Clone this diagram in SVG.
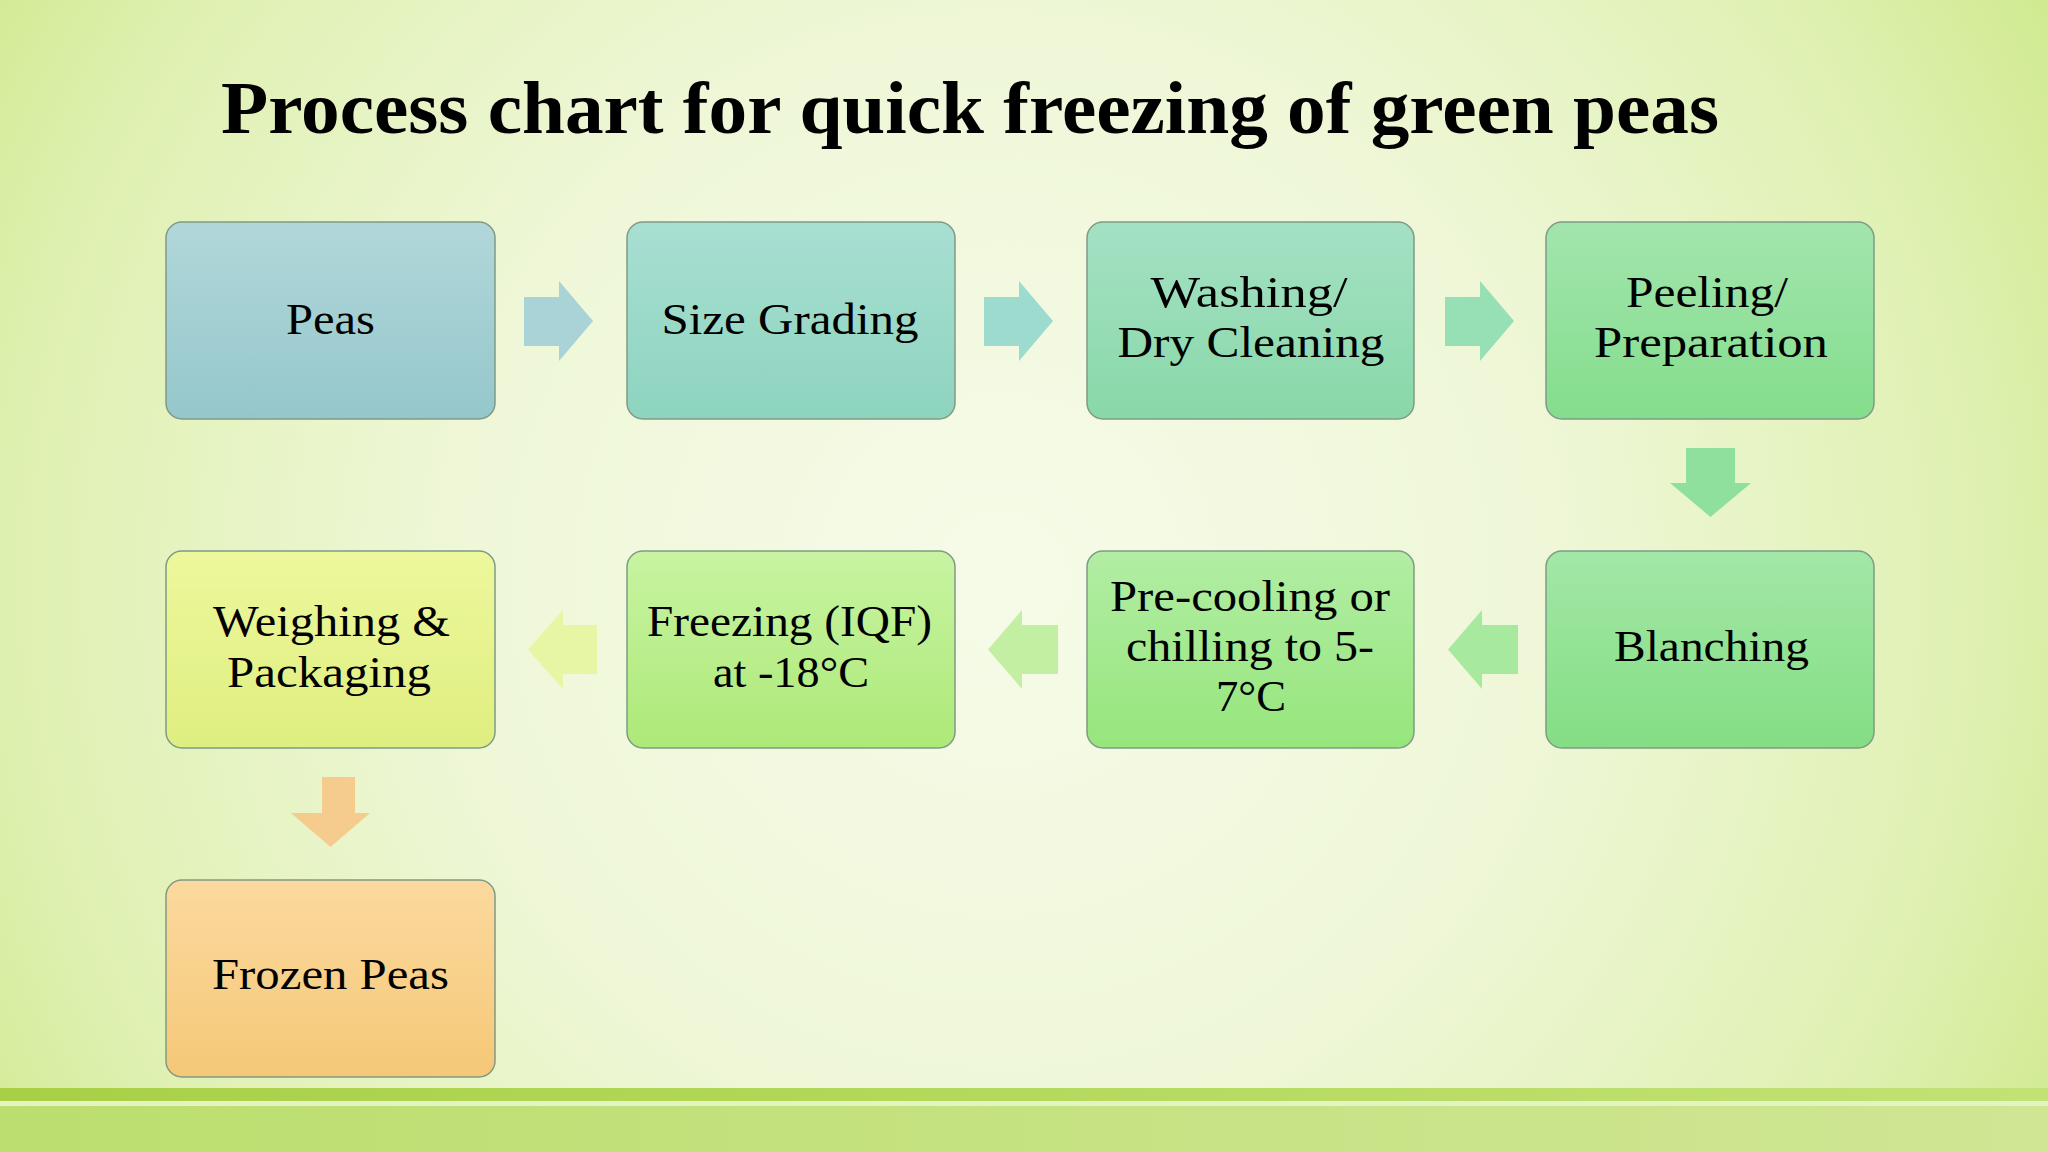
<svg xmlns="http://www.w3.org/2000/svg" width="2048" height="1152" viewBox="0 0 2048 1152">
<defs>
<radialGradient id="bg" gradientUnits="userSpaceOnUse" cx="1000" cy="580" r="1200">
<stop offset="0" stop-color="#f6fbe8"/>
<stop offset="0.45" stop-color="#eff7d8"/>
<stop offset="0.8" stop-color="#e0f1b4"/>
<stop offset="1" stop-color="#d0ea90"/>
</radialGradient>
<linearGradient id="band" x1="0" y1="0" x2="1" y2="0">
<stop offset="0" stop-color="#a8d046"/>
<stop offset="1" stop-color="#c2e274"/>
</linearGradient>
<linearGradient id="band2" x1="0" y1="0" x2="1" y2="0">
<stop offset="0" stop-color="#bcde6e"/>
<stop offset="1" stop-color="#cfe694"/>
</linearGradient>
<linearGradient id="g1" x1="0" y1="0" x2="0" y2="1"><stop offset="0" stop-color="#b2d7da"/><stop offset="1" stop-color="#94c7cb"/></linearGradient>
<linearGradient id="g2" x1="0" y1="0" x2="0" y2="1"><stop offset="0" stop-color="#a8dfd2"/><stop offset="1" stop-color="#8dd4bf"/></linearGradient>
<linearGradient id="g3" x1="0" y1="0" x2="0" y2="1"><stop offset="0" stop-color="#a4e1c4"/><stop offset="1" stop-color="#89d8a9"/></linearGradient>
<linearGradient id="g4" x1="0" y1="0" x2="0" y2="1"><stop offset="0" stop-color="#a2e5ae"/><stop offset="1" stop-color="#84dd8c"/></linearGradient>
<linearGradient id="g5" x1="0" y1="0" x2="0" y2="1"><stop offset="0" stop-color="#a2e7a6"/><stop offset="1" stop-color="#84de84"/></linearGradient>
<linearGradient id="g6" x1="0" y1="0" x2="0" y2="1"><stop offset="0" stop-color="#b2eda4"/><stop offset="1" stop-color="#96e67c"/></linearGradient>
<linearGradient id="g7" x1="0" y1="0" x2="0" y2="1"><stop offset="0" stop-color="#c8f4a2"/><stop offset="1" stop-color="#ade978"/></linearGradient>
<linearGradient id="g8" x1="0" y1="0" x2="0" y2="1"><stop offset="0" stop-color="#edf89c"/><stop offset="1" stop-color="#dfee80"/></linearGradient>
<linearGradient id="g9" x1="0" y1="0" x2="0" y2="1"><stop offset="0" stop-color="#fbd99e"/><stop offset="1" stop-color="#f5c877"/></linearGradient>
</defs>
<style>
.box{stroke:#7f9a86;stroke-width:1.5}
.t{font-family:"Palatino Linotype","Book Antiqua",Palatino,"Liberation Serif",serif;font-size:45px;fill:#000;text-anchor:middle}
.title{font-family:"Palatino Linotype","Book Antiqua",Palatino,"Liberation Serif",serif;font-size:74px;font-weight:bold;fill:#000}
</style>
<rect width="2048" height="1152" fill="url(#bg)"/>
<rect x="0" y="1088" width="2048" height="13" fill="url(#band)"/>
<rect x="0" y="1101" width="2048" height="5" fill="#e4f4c0"/>
<rect x="0" y="1106" width="2048" height="46" fill="url(#band2)"/>

<text class="title" x="221" y="133" textLength="1498" lengthAdjust="spacingAndGlyphs">Process chart for quick freezing of green peas</text>

<g id="connectors">
<path d="M524,297 H559 V281 L593,321 L559,361 V346 H524 Z" fill="#a9d3d6"/>
<path d="M984,297 H1019 V281 L1053,321 L1019,361 V346 H984 Z" fill="#9ddbce"/>
<path d="M1445,297 H1480 V281 L1514,321 L1480,361 V346 H1445 Z" fill="#97dfb4"/>
<path d="M1686,448 H1735 V483 H1751 L1710.5,517 L1670,483 H1686 Z" fill="#8fe09c"/>
<path d="M1518,625 H1482 V610 L1448,649.5 L1482,689 V674 H1518 Z" fill="#a8e9a0"/>
<path d="M1058,625 H1022 V610 L988,649.5 L1022,689 V674 H1058 Z" fill="#c2efa2"/>
<path d="M597,625 H563 V610 L528,649.5 L563,689 V674 H597 Z" fill="#e6f6a4"/>
<path d="M322,777 H355 V813 H370 L330.5,847 L291,813 H322 Z" fill="#f6cb8e"/>
</g>

<g id="n1"><rect class="box" x="166" y="222" width="329" height="197" rx="16" fill="url(#g1)"/>
<text class="t" x="330.5" y="334" textLength="89" lengthAdjust="spacingAndGlyphs">Peas</text></g>
<g id="n2"><rect class="box" x="627" y="222" width="328" height="197" rx="16" fill="url(#g2)"/>
<text class="t" x="790" y="334" textLength="257" lengthAdjust="spacingAndGlyphs">Size Grading</text></g>
<g id="n3"><rect class="box" x="1087" y="222" width="327" height="197" rx="16" fill="url(#g3)"/>
<text class="t" x="1249" y="307" textLength="197" lengthAdjust="spacingAndGlyphs">Washing/</text>
<text class="t" x="1251" y="357" textLength="267" lengthAdjust="spacingAndGlyphs">Dry Cleaning</text></g>
<g id="n4"><rect class="box" x="1546" y="222" width="328" height="197" rx="16" fill="url(#g4)"/>
<text class="t" x="1707" y="307" textLength="162" lengthAdjust="spacingAndGlyphs">Peeling/</text>
<text class="t" x="1711" y="357" textLength="234" lengthAdjust="spacingAndGlyphs">Preparation</text></g>
<g id="n5"><rect class="box" x="1546" y="551" width="328" height="197" rx="16" fill="url(#g5)"/>
<text class="t" x="1711.5" y="661" textLength="195" lengthAdjust="spacingAndGlyphs">Blanching</text></g>
<g id="n6"><rect class="box" x="1087" y="551" width="327" height="197" rx="16" fill="url(#g6)"/>
<text class="t" x="1250" y="611" textLength="280" lengthAdjust="spacingAndGlyphs">Pre-cooling or</text>
<text class="t" x="1250" y="661" textLength="248" lengthAdjust="spacingAndGlyphs">chilling to 5-</text>
<text class="t" x="1251" y="711" textLength="70" lengthAdjust="spacingAndGlyphs">7°C</text></g>
<g id="n7"><rect class="box" x="627" y="551" width="328" height="197" rx="16" fill="url(#g7)"/>
<text class="t" x="789.5" y="636" textLength="285" lengthAdjust="spacingAndGlyphs">Freezing (IQF)</text>
<text class="t" x="791" y="687" textLength="156" lengthAdjust="spacingAndGlyphs">at -18°C</text></g>
<g id="n8"><rect class="box" x="166" y="551" width="329" height="197" rx="16" fill="url(#g8)"/>
<text class="t" x="331.5" y="636" textLength="237" lengthAdjust="spacingAndGlyphs">Weighing &amp;</text>
<text class="t" x="329" y="687" textLength="204" lengthAdjust="spacingAndGlyphs">Packaging</text></g>
<g id="n9"><rect class="box" x="166" y="880" width="329" height="197" rx="16" fill="url(#g9)"/>
<text class="t" x="330.5" y="989" textLength="237" lengthAdjust="spacingAndGlyphs">Frozen Peas</text></g>
</svg>
